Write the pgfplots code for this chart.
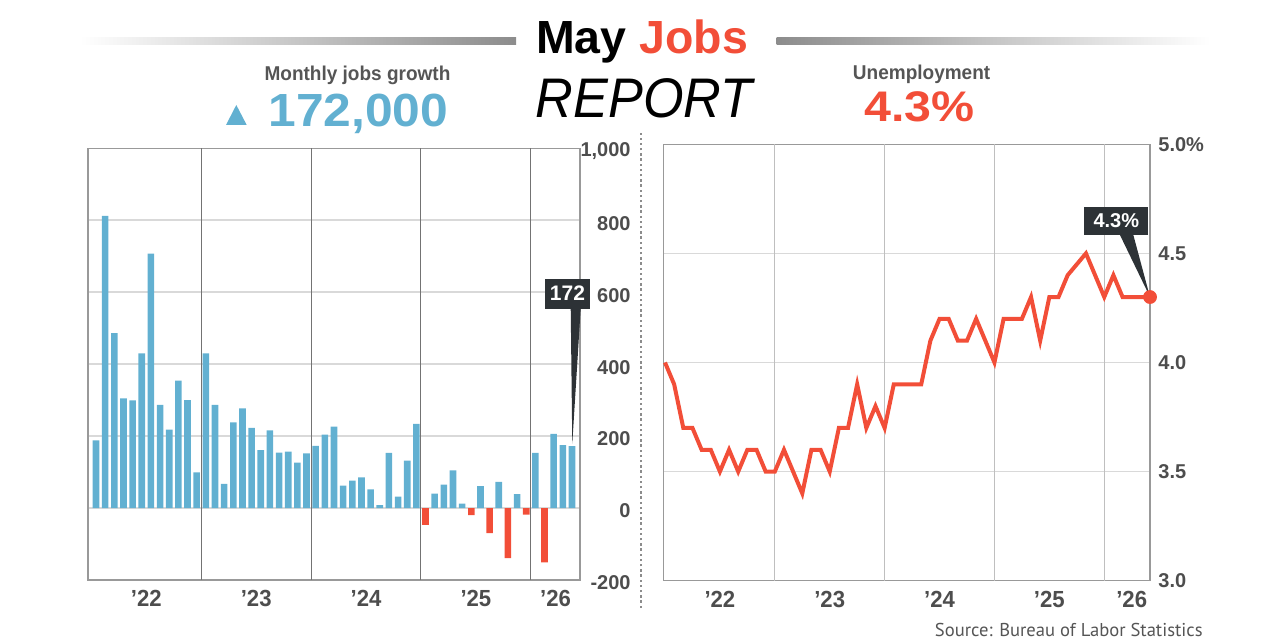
\documentclass[border=0pt]{standalone}
\usepackage{pgfplots}
\pgfplotsset{compat=1.18}
\usepackage{fontspec}
\setmainfont{Liberation Sans}
\newfontfamily\hdr[FakeStretch=0.95]{Liberation Sans}
\newfontfamily\bignum[FakeStretch=1.07]{Liberation Sans}
\newfontfamily\pctfont[FakeStretch=1.13]{Liberation Sans}
\newfontfamily\repfont[FakeStretch=0.935]{Liberation Sans}
\newfontfamily\xlab[FakeStretch=0.95]{Liberation Sans}
\newfontfamily\srcfont{PT Sans}
\definecolor{jblue}{RGB}{98,176,209}
\definecolor{jred}{RGB}{242,78,56}
\definecolor{tickgray}{RGB}{77,77,77}
\definecolor{hdrgray}{RGB}{85,85,85}
\definecolor{boxdark}{RGB}{45,50,54}

\begin{document}
\begin{tikzpicture}
\path[use as bounding box] (0,0) rectangle (640pt,320pt);
% header rules
\shade[left color=white, right color=black!45] (40pt,297.575pt) rectangle (258pt,301.425pt);
\shade[left color=black!45, right color=white] (388.35pt,297.575pt) rectangle (605pt,301.425pt);
% title
\node[anchor=base, inner sep=0pt, font=\bfseries\fontsize{23.25}{24}\selectfont] at (321pt,293pt) {May \textcolor{jred}{Jobs}};
\node[anchor=base, inner sep=0pt, font=\repfont\itshape\fontsize{27.9}{28}\selectfont] at (322.1pt,261.35pt) {REPORT};
% left header
\node[anchor=base, inner sep=0pt, font=\hdr\bfseries\fontsize{10}{12}\selectfont, text=hdrgray] at (178.75pt,279.5pt) {Monthly jobs growth};
\node[anchor=base, inner sep=0pt, font=\bignum\bfseries\fontsize{23.25}{24}\selectfont, text=jblue] at (179.2pt,256.65pt) {172,000};
\fill[jblue] (113pt,257.5pt) -- (123.35pt,257.5pt) -- (118.15pt,267.5pt) -- cycle;
% right header
\node[anchor=base, inner sep=0pt, font=\hdr\bfseries\fontsize{10}{12}\selectfont, text=hdrgray] at (460.8pt,280pt) {Unemployment};
\node[anchor=base, inner sep=0pt, font=\pctfont\bfseries\fontsize{21.4}{22}\selectfont, text=jred] at (459.8pt,259.15pt) {4.3\%};
% divider
\draw[black!45, line width=0.8pt, dash pattern=on 1.2pt off 1.4pt] (320.5pt,16pt) -- (320.5pt,253.5pt);
% source
\node[anchor=base east, inner sep=0pt, font=\srcfont\fontsize{9.3}{10}\selectfont, text=hdrgray] at (601.5pt,1.65pt) {Source: Bureau of Labor Statistics};

% ---------------- left: jobs growth ----------------
\begin{axis}[
  at={(44pt,30pt)}, anchor=south west,
  width=246pt, height=215.85pt, scale only axis,
  xmin=-0.874, xmax=52.874, ymin=-200, ymax=1000,
  axis line style={black!40, line width=0.6pt},
  major tick length=0pt,
  ytick={-200,0,200,400,600,800,1000},
  yticklabels={-200,0,200,400,600,800,{1,000}},
  yticklabel pos=right,
  yticklabel style={anchor=east, inner xsep=0pt, xshift=25.5pt, yshift=-1.5pt, font=\bfseries\fontsize{10}{12}\selectfont, text=tickgray},
  ymajorgrids, y grid style={black!15, line width=0.75pt},
  xtick={5.5,17.5,29.5,41.5,50.2},
  xticklabels={’22,’23,’24,’25,’26},
  xticklabel style={yshift=-1.5pt, font=\xlab\bfseries\fontsize{11.65}{12}\selectfont, text=tickgray},
  extra x ticks={11.5,23.5,35.5,47.5},
  extra x tick labels={},
  extra x tick style={grid=major, major grid style={black!55, line width=0.5pt}},
  clip=false,
]
\addplot[ybar, bar width=3.3pt, bar shift=0pt, fill=jblue, draw=none] coordinates {
(0,188) (1,812) (2,486) (3,305) (4,299) (5,430) (6,707) (7,287) (8,218) (9,354) (10,300) (11,99)
(12,430) (13,287) (14,67) (15,238) (16,277) (17,223) (18,161) (19,216) (20,154) (21,157) (22,126) (23,152)
(24,173) (25,204) (26,226) (27,62) (28,76) (29,85) (30,52) (31,8) (32,153) (33,32) (34,132) (35,234)
(37,40) (38,65) (39,105) (40,12) (42,61) (44,73) (46,39)
(48,153) (50,206) (51,175) (52,172)
};
\addplot[ybar, bar width=3.3pt, bar shift=0pt, fill=jred, draw=none] coordinates {
(36,-47) (41,-20) (43,-70) (45,-139) (47,-18) (49,-151)
};
\fill[boxdark] (axis cs:51.86,555) -- (axis cs:52.95,555) -- (axis cs:52.03,179) -- cycle;
\node[fill=boxdark, text=white, font=\bfseries\fontsize{10.5}{11}\selectfont, minimum width=22.5pt, minimum height=15pt, inner sep=0pt] at (axis cs:51.5,596) {172};
\end{axis}

% ---------------- right: unemployment ----------------
\begin{axis}[
  at={(331.65pt,29.65pt)}, anchor=south west,
  width=243.35pt, height=218.2pt, scale only axis,
  xmin=-0.186, xmax=53, ymin=3, ymax=5,
  axis line style={black!40, line width=0.6pt},
  major tick length=0pt,
  ytick={3,3.5,4,4.5,5},
  yticklabels={3.0,3.5,4.0,4.5,{5.0\%}},
  yticklabel pos=right,
  yticklabel style={anchor=west, inner xsep=0pt, xshift=4pt, font=\bfseries\fontsize{10}{12}\selectfont, text=tickgray},
  ymajorgrids, y grid style={black!15, line width=0.75pt},
  xtick={6,18,30,42,51},
  xticklabels={’22,’23,’24,’25,’26},
  xticklabel style={yshift=-1.5pt, font=\xlab\bfseries\fontsize{11.65}{12}\selectfont, text=tickgray},
  extra x ticks={12,24,36,48},
  extra x tick labels={},
  extra x tick style={grid=major, major grid style={black!25, line width=0.6pt}},
  clip=false,
]
\addplot[jred, line width=2pt, line join=miter, mark=none] coordinates {
(0,4.0) (1,3.9) (2,3.7) (3,3.7) (4,3.6) (5,3.6) (6,3.5) (7,3.6) (8,3.5) (9,3.6) (10,3.6) (11,3.5)
(12,3.5) (13,3.6) (14,3.5) (15,3.4) (16,3.6) (17,3.6) (18,3.5) (19,3.7) (20,3.7) (21,3.9) (22,3.7) (23,3.8)
(24,3.7) (25,3.9) (26,3.9) (27,3.9) (28,3.9) (29,4.1) (30,4.2) (31,4.2) (32,4.1) (33,4.1) (34,4.2) (35,4.1)
(36,4.0) (37,4.2) (38,4.2) (39,4.2) (40,4.3) (41,4.1) (42,4.3) (43,4.3) (44,4.4) (45,4.45) (46,4.5) (47,4.4)
(48,4.3) (49,4.4) (50,4.3) (51,4.3) (52,4.3) (53,4.3)
};
\fill[boxdark] (axis cs:49.72,4.584) -- (axis cs:51.18,4.584) -- (axis cs:53,4.3) -- cycle;
\node[fill=boxdark, text=white, font=\bfseries\fontsize{10}{11}\selectfont, minimum width=32pt, minimum height=13.85pt, inner sep=0pt] at (axis cs:49.32,4.648) {4.3\%};
\addplot[only marks, mark=*, mark size=3.25pt, mark options={draw=jred, fill=jred}] coordinates {(53,4.3)};
\end{axis}
\end{tikzpicture}
\end{document}
